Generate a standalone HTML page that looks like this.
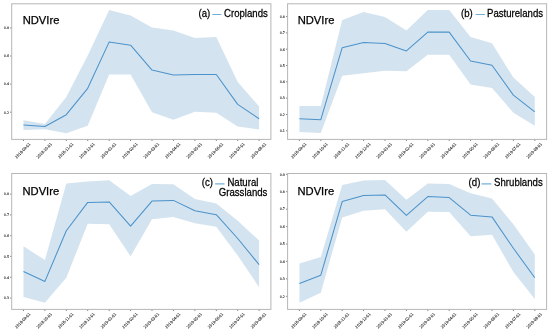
<!DOCTYPE html>
<html><head><meta charset="utf-8"><title>NDVIre</title>
<style>
html,body{margin:0;padding:0;background:#fff;}
svg{display:block;}
.t{font-family:"Liberation Sans",sans-serif;fill:#000;stroke:#000;stroke-width:0.25;}
.k{font-family:"DejaVu Sans","Liberation Sans",sans-serif;fill:#1a1a1a;stroke:#1a1a1a;stroke-width:0.1;}
</style></head><body>
<svg width="550" height="332" viewBox="0 0 550 332">
<rect width="550" height="332" fill="#fff"/>

<g>
<polygon points="23.5,120.2 44.9,124.0 66.3,96.9 87.7,55.5 109.2,10.0 130.6,15.6 152.0,27.6 173.4,30.6 194.9,38.1 216.3,37.1 237.7,82.1 259.1,106.4 259.1,129.5 237.7,126.5 216.3,112.7 194.9,111.7 173.4,119.7 152.0,112.2 130.6,74.6 109.2,74.4 87.7,125.7 66.3,133.3 44.9,129.2 23.5,129.9" fill="#d3e4f0"/>
<polyline points="23.5,125.0 44.9,126.5 66.3,114.7 87.7,88.3 109.2,41.9 130.6,45.2 152.0,70.1 173.4,75.0 194.9,74.5 216.3,74.5 237.7,104.4 259.1,118.7" fill="none" stroke="#4c92ca" stroke-width="1.05" stroke-linejoin="round"/>
<rect x="11.7" y="3.8" width="259.2" height="135.6" fill="none" stroke="#b6b6b6" stroke-width="1"/>
<line x1="10.1" y1="27.9" x2="11.2" y2="27.9" stroke="#333" stroke-width="0.6"/>
<text class="k" x="9.0" y="29.2" font-size="3.3" text-anchor="end">0.8</text>
<line x1="10.1" y1="56.0" x2="11.2" y2="56.0" stroke="#333" stroke-width="0.6"/>
<text class="k" x="9.0" y="57.2" font-size="3.3" text-anchor="end">0.6</text>
<line x1="10.1" y1="84.1" x2="11.2" y2="84.1" stroke="#333" stroke-width="0.6"/>
<text class="k" x="9.0" y="85.3" font-size="3.3" text-anchor="end">0.4</text>
<line x1="10.1" y1="112.2" x2="11.2" y2="112.2" stroke="#333" stroke-width="0.6"/>
<text class="k" x="9.0" y="113.5" font-size="3.3" text-anchor="end">0.2</text>
<line x1="23.5" y1="139.9" x2="23.5" y2="141.0" stroke="#333" stroke-width="0.6"/>
<text class="k" font-size="4" text-anchor="middle" transform="translate(23.8,151.6) rotate(-45) scale(0.86,1)">2018-09-01</text>
<line x1="44.9" y1="139.9" x2="44.9" y2="141.0" stroke="#333" stroke-width="0.6"/>
<text class="k" font-size="4" text-anchor="middle" transform="translate(45.3,151.6) rotate(-45) scale(0.86,1)">2018-10-01</text>
<line x1="66.3" y1="139.9" x2="66.3" y2="141.0" stroke="#333" stroke-width="0.6"/>
<text class="k" font-size="4" text-anchor="middle" transform="translate(66.7,151.6) rotate(-45) scale(0.86,1)">2018-11-01</text>
<line x1="87.7" y1="139.9" x2="87.7" y2="141.0" stroke="#333" stroke-width="0.6"/>
<text class="k" font-size="4" text-anchor="middle" transform="translate(88.1,151.6) rotate(-45) scale(0.86,1)">2018-12-01</text>
<line x1="109.2" y1="139.9" x2="109.2" y2="141.0" stroke="#333" stroke-width="0.6"/>
<text class="k" font-size="4" text-anchor="middle" transform="translate(109.5,151.6) rotate(-45) scale(0.86,1)">2019-01-01</text>
<line x1="130.6" y1="139.9" x2="130.6" y2="141.0" stroke="#333" stroke-width="0.6"/>
<text class="k" font-size="4" text-anchor="middle" transform="translate(130.9,151.6) rotate(-45) scale(0.86,1)">2019-02-01</text>
<line x1="152.0" y1="139.9" x2="152.0" y2="141.0" stroke="#333" stroke-width="0.6"/>
<text class="k" font-size="4" text-anchor="middle" transform="translate(152.4,151.6) rotate(-45) scale(0.86,1)">2019-03-01</text>
<line x1="173.4" y1="139.9" x2="173.4" y2="141.0" stroke="#333" stroke-width="0.6"/>
<text class="k" font-size="4" text-anchor="middle" transform="translate(173.8,151.6) rotate(-45) scale(0.86,1)">2019-04-01</text>
<line x1="194.9" y1="139.9" x2="194.9" y2="141.0" stroke="#333" stroke-width="0.6"/>
<text class="k" font-size="4" text-anchor="middle" transform="translate(195.2,151.6) rotate(-45) scale(0.86,1)">2019-05-01</text>
<line x1="216.3" y1="139.9" x2="216.3" y2="141.0" stroke="#333" stroke-width="0.6"/>
<text class="k" font-size="4" text-anchor="middle" transform="translate(216.6,151.6) rotate(-45) scale(0.86,1)">2019-06-01</text>
<line x1="237.7" y1="139.9" x2="237.7" y2="141.0" stroke="#333" stroke-width="0.6"/>
<text class="k" font-size="4" text-anchor="middle" transform="translate(238.0,151.6) rotate(-45) scale(0.86,1)">2019-07-01</text>
<line x1="259.1" y1="139.9" x2="259.1" y2="141.0" stroke="#333" stroke-width="0.6"/>
<text class="k" font-size="4" text-anchor="middle" transform="translate(259.5,151.6) rotate(-45) scale(0.86,1)">2019-08-01</text>
<text class="t" x="22.7" y="23.6" font-size="11.2">NDVIre</text>
<text class="t" transform="translate(198.5,16.6) scale(0.89,1)" font-size="10.8">(a)</text>
<text class="t" transform="translate(224.0,16.6) scale(0.89,1)" font-size="10.8">Croplands</text>
<line x1="212.4" y1="14.5" x2="221.4" y2="14.5" stroke="#5fa5d5" stroke-width="0.9"/>
</g>
<g>
<polygon points="299.4,105.9 320.8,105.9 342.2,20.1 363.6,12.0 385.0,17.1 406.4,30.6 427.8,10.0 449.2,10.0 470.6,37.1 492.0,43.2 513.4,77.6 534.8,96.9 534.8,125.7 513.4,112.7 492.0,88.1 470.6,84.6 449.2,54.7 427.8,54.7 406.4,71.3 385.0,70.8 363.6,73.3 342.2,75.8 320.8,133.0 299.4,132.0" fill="#d3e4f0"/>
<polyline points="299.4,118.7 320.8,119.7 342.2,47.7 363.6,42.6 385.0,43.4 406.4,50.9 427.8,32.1 449.2,32.1 470.6,61.0 492.0,65.3 513.4,95.1 534.8,111.9" fill="none" stroke="#4c92ca" stroke-width="1.05" stroke-linejoin="round"/>
<rect x="287.6" y="3.8" width="259.0" height="135.6" fill="none" stroke="#b6b6b6" stroke-width="1"/>
<line x1="286.0" y1="16.6" x2="287.1" y2="16.6" stroke="#333" stroke-width="0.6"/>
<text class="k" x="284.9" y="17.9" font-size="3.3" text-anchor="end">0.8</text>
<line x1="286.0" y1="32.9" x2="287.1" y2="32.9" stroke="#333" stroke-width="0.6"/>
<text class="k" x="284.9" y="34.2" font-size="3.3" text-anchor="end">0.7</text>
<line x1="286.0" y1="49.2" x2="287.1" y2="49.2" stroke="#333" stroke-width="0.6"/>
<text class="k" x="284.9" y="50.5" font-size="3.3" text-anchor="end">0.6</text>
<line x1="286.0" y1="65.5" x2="287.1" y2="65.5" stroke="#333" stroke-width="0.6"/>
<text class="k" x="284.9" y="66.8" font-size="3.3" text-anchor="end">0.5</text>
<line x1="286.0" y1="81.8" x2="287.1" y2="81.8" stroke="#333" stroke-width="0.6"/>
<text class="k" x="284.9" y="83.1" font-size="3.3" text-anchor="end">0.4</text>
<line x1="286.0" y1="98.1" x2="287.1" y2="98.1" stroke="#333" stroke-width="0.6"/>
<text class="k" x="284.9" y="99.4" font-size="3.3" text-anchor="end">0.3</text>
<line x1="286.0" y1="114.5" x2="287.1" y2="114.5" stroke="#333" stroke-width="0.6"/>
<text class="k" x="284.9" y="115.7" font-size="3.3" text-anchor="end">0.2</text>
<line x1="286.0" y1="130.8" x2="287.1" y2="130.8" stroke="#333" stroke-width="0.6"/>
<text class="k" x="284.9" y="132.0" font-size="3.3" text-anchor="end">0.1</text>
<line x1="299.4" y1="139.9" x2="299.4" y2="141.0" stroke="#333" stroke-width="0.6"/>
<text class="k" font-size="4" text-anchor="middle" transform="translate(299.7,151.6) rotate(-45) scale(0.86,1)">2018-09-01</text>
<line x1="320.8" y1="139.9" x2="320.8" y2="141.0" stroke="#333" stroke-width="0.6"/>
<text class="k" font-size="4" text-anchor="middle" transform="translate(321.1,151.6) rotate(-45) scale(0.86,1)">2018-10-01</text>
<line x1="342.2" y1="139.9" x2="342.2" y2="141.0" stroke="#333" stroke-width="0.6"/>
<text class="k" font-size="4" text-anchor="middle" transform="translate(342.5,151.6) rotate(-45) scale(0.86,1)">2018-11-01</text>
<line x1="363.6" y1="139.9" x2="363.6" y2="141.0" stroke="#333" stroke-width="0.6"/>
<text class="k" font-size="4" text-anchor="middle" transform="translate(363.9,151.6) rotate(-45) scale(0.86,1)">2018-12-01</text>
<line x1="385.0" y1="139.9" x2="385.0" y2="141.0" stroke="#333" stroke-width="0.6"/>
<text class="k" font-size="4" text-anchor="middle" transform="translate(385.3,151.6) rotate(-45) scale(0.86,1)">2019-01-01</text>
<line x1="406.4" y1="139.9" x2="406.4" y2="141.0" stroke="#333" stroke-width="0.6"/>
<text class="k" font-size="4" text-anchor="middle" transform="translate(406.7,151.6) rotate(-45) scale(0.86,1)">2019-02-01</text>
<line x1="427.8" y1="139.9" x2="427.8" y2="141.0" stroke="#333" stroke-width="0.6"/>
<text class="k" font-size="4" text-anchor="middle" transform="translate(428.2,151.6) rotate(-45) scale(0.86,1)">2019-03-01</text>
<line x1="449.2" y1="139.9" x2="449.2" y2="141.0" stroke="#333" stroke-width="0.6"/>
<text class="k" font-size="4" text-anchor="middle" transform="translate(449.6,151.6) rotate(-45) scale(0.86,1)">2019-04-01</text>
<line x1="470.6" y1="139.9" x2="470.6" y2="141.0" stroke="#333" stroke-width="0.6"/>
<text class="k" font-size="4" text-anchor="middle" transform="translate(471.0,151.6) rotate(-45) scale(0.86,1)">2019-05-01</text>
<line x1="492.0" y1="139.9" x2="492.0" y2="141.0" stroke="#333" stroke-width="0.6"/>
<text class="k" font-size="4" text-anchor="middle" transform="translate(492.4,151.6) rotate(-45) scale(0.86,1)">2019-06-01</text>
<line x1="513.4" y1="139.9" x2="513.4" y2="141.0" stroke="#333" stroke-width="0.6"/>
<text class="k" font-size="4" text-anchor="middle" transform="translate(513.8,151.6) rotate(-45) scale(0.86,1)">2019-07-01</text>
<line x1="534.8" y1="139.9" x2="534.8" y2="141.0" stroke="#333" stroke-width="0.6"/>
<text class="k" font-size="4" text-anchor="middle" transform="translate(535.2,151.6) rotate(-45) scale(0.86,1)">2019-08-01</text>
<text class="t" x="297.7" y="23.7" font-size="11.2">NDVIre</text>
<text class="t" transform="translate(461.0,16.5) scale(0.89,1)" font-size="10.8">(b)</text>
<text class="t" transform="translate(487.0,16.5) scale(0.89,1)" font-size="10.8">Pasturelands</text>
<line x1="475.6" y1="14.5" x2="484.9" y2="14.5" stroke="#5fa5d5" stroke-width="0.9"/>
</g>
<g>
<polygon points="23.5,246.3 44.9,260.1 66.3,183.6 87.7,181.6 109.2,180.3 130.6,196.1 152.0,184.1 173.4,184.3 194.9,199.1 216.3,203.6 237.7,220.8 259.1,240.5 259.1,287.2 237.7,255.5 216.3,226.7 194.9,223.2 173.4,216.9 152.0,219.2 130.6,256.3 109.2,224.2 87.7,223.7 66.3,277.7 44.9,302.8 23.5,297.0" fill="#d3e4f0"/>
<polyline points="23.5,271.4 44.9,281.4 66.3,230.7 87.7,202.4 109.2,201.9 130.6,226.2 152.0,201.1 173.4,200.4 194.9,210.8 216.3,214.7 237.7,238.5 259.1,264.6" fill="none" stroke="#4c92ca" stroke-width="1.05" stroke-linejoin="round"/>
<rect x="11.7" y="173.5" width="259.2" height="135.9" fill="none" stroke="#b6b6b6" stroke-width="1"/>
<line x1="10.1" y1="194.1" x2="11.2" y2="194.1" stroke="#333" stroke-width="0.6"/>
<text class="k" x="9.0" y="195.4" font-size="3.3" text-anchor="end">0.8</text>
<line x1="10.1" y1="214.9" x2="11.2" y2="214.9" stroke="#333" stroke-width="0.6"/>
<text class="k" x="9.0" y="216.1" font-size="3.3" text-anchor="end">0.7</text>
<line x1="10.1" y1="235.7" x2="11.2" y2="235.7" stroke="#333" stroke-width="0.6"/>
<text class="k" x="9.0" y="236.9" font-size="3.3" text-anchor="end">0.6</text>
<line x1="10.1" y1="256.4" x2="11.2" y2="256.4" stroke="#333" stroke-width="0.6"/>
<text class="k" x="9.0" y="257.7" font-size="3.3" text-anchor="end">0.5</text>
<line x1="10.1" y1="277.2" x2="11.2" y2="277.2" stroke="#333" stroke-width="0.6"/>
<text class="k" x="9.0" y="278.5" font-size="3.3" text-anchor="end">0.4</text>
<line x1="10.1" y1="298.0" x2="11.2" y2="298.0" stroke="#333" stroke-width="0.6"/>
<text class="k" x="9.0" y="299.3" font-size="3.3" text-anchor="end">0.3</text>
<line x1="23.5" y1="309.9" x2="23.5" y2="311.0" stroke="#333" stroke-width="0.6"/>
<text class="k" font-size="4" text-anchor="middle" transform="translate(23.8,321.6) rotate(-45) scale(0.86,1)">2018-09-01</text>
<line x1="44.9" y1="309.9" x2="44.9" y2="311.0" stroke="#333" stroke-width="0.6"/>
<text class="k" font-size="4" text-anchor="middle" transform="translate(45.3,321.6) rotate(-45) scale(0.86,1)">2018-10-01</text>
<line x1="66.3" y1="309.9" x2="66.3" y2="311.0" stroke="#333" stroke-width="0.6"/>
<text class="k" font-size="4" text-anchor="middle" transform="translate(66.7,321.6) rotate(-45) scale(0.86,1)">2018-11-01</text>
<line x1="87.7" y1="309.9" x2="87.7" y2="311.0" stroke="#333" stroke-width="0.6"/>
<text class="k" font-size="4" text-anchor="middle" transform="translate(88.1,321.6) rotate(-45) scale(0.86,1)">2018-12-01</text>
<line x1="109.2" y1="309.9" x2="109.2" y2="311.0" stroke="#333" stroke-width="0.6"/>
<text class="k" font-size="4" text-anchor="middle" transform="translate(109.5,321.6) rotate(-45) scale(0.86,1)">2019-01-01</text>
<line x1="130.6" y1="309.9" x2="130.6" y2="311.0" stroke="#333" stroke-width="0.6"/>
<text class="k" font-size="4" text-anchor="middle" transform="translate(130.9,321.6) rotate(-45) scale(0.86,1)">2019-02-01</text>
<line x1="152.0" y1="309.9" x2="152.0" y2="311.0" stroke="#333" stroke-width="0.6"/>
<text class="k" font-size="4" text-anchor="middle" transform="translate(152.4,321.6) rotate(-45) scale(0.86,1)">2019-03-01</text>
<line x1="173.4" y1="309.9" x2="173.4" y2="311.0" stroke="#333" stroke-width="0.6"/>
<text class="k" font-size="4" text-anchor="middle" transform="translate(173.8,321.6) rotate(-45) scale(0.86,1)">2019-04-01</text>
<line x1="194.9" y1="309.9" x2="194.9" y2="311.0" stroke="#333" stroke-width="0.6"/>
<text class="k" font-size="4" text-anchor="middle" transform="translate(195.2,321.6) rotate(-45) scale(0.86,1)">2019-05-01</text>
<line x1="216.3" y1="309.9" x2="216.3" y2="311.0" stroke="#333" stroke-width="0.6"/>
<text class="k" font-size="4" text-anchor="middle" transform="translate(216.6,321.6) rotate(-45) scale(0.86,1)">2019-06-01</text>
<line x1="237.7" y1="309.9" x2="237.7" y2="311.0" stroke="#333" stroke-width="0.6"/>
<text class="k" font-size="4" text-anchor="middle" transform="translate(238.0,321.6) rotate(-45) scale(0.86,1)">2019-07-01</text>
<line x1="259.1" y1="309.9" x2="259.1" y2="311.0" stroke="#333" stroke-width="0.6"/>
<text class="k" font-size="4" text-anchor="middle" transform="translate(259.5,321.6) rotate(-45) scale(0.86,1)">2019-08-01</text>
<text class="t" x="22.5" y="194.8" font-size="11.2">NDVIre</text>
<text class="t" transform="translate(201.8,186.2) scale(0.89,1)" font-size="10.8">(c)</text>
<text class="t" transform="translate(227.4,186.2) scale(0.89,1)" font-size="10.8">Natural</text>
<text class="t" transform="translate(218.8,195.6) scale(0.89,1)" font-size="10.8">Grasslands</text>
<line x1="215.1" y1="183.9" x2="224.5" y2="183.9" stroke="#5fa5d5" stroke-width="1.1"/>
</g>
<g>
<polygon points="299.4,263.4 320.8,257.1 342.2,185.0 363.6,180.5 385.0,180.0 406.4,199.7 427.8,183.6 449.2,184.1 470.6,193.2 492.0,198.6 513.4,224.3 534.8,254.6 534.8,299.0 513.4,272.1 492.0,234.7 470.6,236.3 449.2,211.9 427.8,211.7 406.4,231.8 385.0,209.2 363.6,210.7 342.2,217.4 320.8,292.7 299.4,302.8" fill="#d3e4f0"/>
<polyline points="299.4,283.4 320.8,275.2 342.2,201.6 363.6,195.6 385.0,194.9 406.4,215.4 427.8,196.6 449.2,197.6 470.6,215.2 492.0,216.9 513.4,248.3 534.8,277.7" fill="none" stroke="#4c92ca" stroke-width="1.05" stroke-linejoin="round"/>
<rect x="287.6" y="173.5" width="259.0" height="135.9" fill="none" stroke="#b6b6b6" stroke-width="1"/>
<line x1="286.0" y1="174.3" x2="287.1" y2="174.3" stroke="#333" stroke-width="0.6"/>
<text class="k" x="284.9" y="175.6" font-size="3.3" text-anchor="end">0.9</text>
<line x1="286.0" y1="191.7" x2="287.1" y2="191.7" stroke="#333" stroke-width="0.6"/>
<text class="k" x="284.9" y="193.0" font-size="3.3" text-anchor="end">0.8</text>
<line x1="286.0" y1="209.2" x2="287.1" y2="209.2" stroke="#333" stroke-width="0.6"/>
<text class="k" x="284.9" y="210.4" font-size="3.3" text-anchor="end">0.7</text>
<line x1="286.0" y1="226.6" x2="287.1" y2="226.6" stroke="#333" stroke-width="0.6"/>
<text class="k" x="284.9" y="227.8" font-size="3.3" text-anchor="end">0.6</text>
<line x1="286.0" y1="244.0" x2="287.1" y2="244.0" stroke="#333" stroke-width="0.6"/>
<text class="k" x="284.9" y="245.3" font-size="3.3" text-anchor="end">0.5</text>
<line x1="286.0" y1="261.4" x2="287.1" y2="261.4" stroke="#333" stroke-width="0.6"/>
<text class="k" x="284.9" y="262.7" font-size="3.3" text-anchor="end">0.4</text>
<line x1="286.0" y1="278.9" x2="287.1" y2="278.9" stroke="#333" stroke-width="0.6"/>
<text class="k" x="284.9" y="280.1" font-size="3.3" text-anchor="end">0.3</text>
<line x1="286.0" y1="296.3" x2="287.1" y2="296.3" stroke="#333" stroke-width="0.6"/>
<text class="k" x="284.9" y="297.6" font-size="3.3" text-anchor="end">0.2</text>
<line x1="299.4" y1="309.9" x2="299.4" y2="311.0" stroke="#333" stroke-width="0.6"/>
<text class="k" font-size="4" text-anchor="middle" transform="translate(299.7,321.6) rotate(-45) scale(0.86,1)">2018-09-01</text>
<line x1="320.8" y1="309.9" x2="320.8" y2="311.0" stroke="#333" stroke-width="0.6"/>
<text class="k" font-size="4" text-anchor="middle" transform="translate(321.1,321.6) rotate(-45) scale(0.86,1)">2018-10-01</text>
<line x1="342.2" y1="309.9" x2="342.2" y2="311.0" stroke="#333" stroke-width="0.6"/>
<text class="k" font-size="4" text-anchor="middle" transform="translate(342.5,321.6) rotate(-45) scale(0.86,1)">2018-11-01</text>
<line x1="363.6" y1="309.9" x2="363.6" y2="311.0" stroke="#333" stroke-width="0.6"/>
<text class="k" font-size="4" text-anchor="middle" transform="translate(363.9,321.6) rotate(-45) scale(0.86,1)">2018-12-01</text>
<line x1="385.0" y1="309.9" x2="385.0" y2="311.0" stroke="#333" stroke-width="0.6"/>
<text class="k" font-size="4" text-anchor="middle" transform="translate(385.3,321.6) rotate(-45) scale(0.86,1)">2019-01-01</text>
<line x1="406.4" y1="309.9" x2="406.4" y2="311.0" stroke="#333" stroke-width="0.6"/>
<text class="k" font-size="4" text-anchor="middle" transform="translate(406.7,321.6) rotate(-45) scale(0.86,1)">2019-02-01</text>
<line x1="427.8" y1="309.9" x2="427.8" y2="311.0" stroke="#333" stroke-width="0.6"/>
<text class="k" font-size="4" text-anchor="middle" transform="translate(428.2,321.6) rotate(-45) scale(0.86,1)">2019-03-01</text>
<line x1="449.2" y1="309.9" x2="449.2" y2="311.0" stroke="#333" stroke-width="0.6"/>
<text class="k" font-size="4" text-anchor="middle" transform="translate(449.6,321.6) rotate(-45) scale(0.86,1)">2019-04-01</text>
<line x1="470.6" y1="309.9" x2="470.6" y2="311.0" stroke="#333" stroke-width="0.6"/>
<text class="k" font-size="4" text-anchor="middle" transform="translate(471.0,321.6) rotate(-45) scale(0.86,1)">2019-05-01</text>
<line x1="492.0" y1="309.9" x2="492.0" y2="311.0" stroke="#333" stroke-width="0.6"/>
<text class="k" font-size="4" text-anchor="middle" transform="translate(492.4,321.6) rotate(-45) scale(0.86,1)">2019-06-01</text>
<line x1="513.4" y1="309.9" x2="513.4" y2="311.0" stroke="#333" stroke-width="0.6"/>
<text class="k" font-size="4" text-anchor="middle" transform="translate(513.8,321.6) rotate(-45) scale(0.86,1)">2019-07-01</text>
<line x1="534.8" y1="309.9" x2="534.8" y2="311.0" stroke="#333" stroke-width="0.6"/>
<text class="k" font-size="4" text-anchor="middle" transform="translate(535.2,321.6) rotate(-45) scale(0.86,1)">2019-08-01</text>
<text class="t" x="297.5" y="194.8" font-size="11.2">NDVIre</text>
<text class="t" transform="translate(468.6,186.3) scale(0.89,1)" font-size="10.8">(d)</text>
<text class="t" transform="translate(494.1,186.3) scale(0.89,1)" font-size="10.8">Shrublands</text>
<line x1="481.5" y1="183.9" x2="491.3" y2="183.9" stroke="#5fa5d5" stroke-width="1.1"/>
</g>
</svg></body></html>
